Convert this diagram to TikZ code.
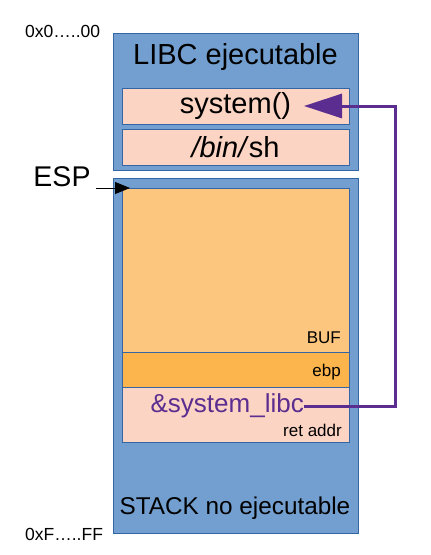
\documentclass[tikz,border=0pt]{standalone}
\usepackage{fontspec}
\setmainfont{Liberation Sans}
\usetikzlibrary{arrows.meta,positioning}
\definecolor{segblue}{HTML}{729FCF}
\definecolor{segline}{HTML}{3465A4}
\definecolor{salmon}{HTML}{FCD4C3}
\definecolor{bufor}{HTML}{FCC67E}
\definecolor{ebpor}{HTML}{FCB54C}
\definecolor{ropurple}{HTML}{5B2D90}
\newcommand{\fsz}[1]{\fontsize{#1}{#1}\selectfont}
\tikzset{
  segment/.style={draw=segline, fill=segblue, line width=1pt, inner sep=0pt, minimum width=245pt},
  slot/.style={draw=segline, line width=0.8pt, inner sep=0pt, minimum width=227pt},
  tag/.style={inner sep=0pt, anchor=east, font=\fsz{17}},
  hijack/.style={draw=ropurple, line width=3pt, -{Triangle[length=38pt,width=24pt]}}
}
\begin{document}
\begin{tikzpicture}[x=1pt, y=-1pt]
  \useasboundingbox (0,0) rectangle (431,555);
  \node[segment, minimum height=137pt] (libc) at (235.5,101.5) {};
  \node[font=\fsz{29}] (libctitle) at (235.5,57) {LIBC ejecutable};
  \node[slot, fill=salmon, minimum height=36pt, font=\fsz{29}] (sys) at (235.5,106) {system()};
  \node[slot, fill=salmon, minimum height=36pt, font=\fsz{29}] (binsh) at (235.5,147) {\textit{/bin/}sh};
  \node[segment, minimum height=355pt] (stack) at (235.5,355.5) {};
  \node[slot, fill=bufor, minimum height=164pt] (buf) at (235.5,270) {};
  \node[slot, fill=ebpor, minimum height=35pt] (ebp) at (235.5,369.5) {};
  \node[slot, fill=salmon, minimum height=55pt] (ret) at (235.5,414.5) {};
  \node[tag] (buftag) at (341,338) {BUF};
  \node[tag] (ebptag) at (341,372) {ebp};
  \node[tag] (rettag) at (342,430) {ret addr};
  \node[tag, font=\fsz{26}, text=ropurple] (syslibc) at (304,406) {\&system\_libc};
  \node[font=\fsz{24.3}] (stacktitle) at (235,508) {STACK no ejecutable};
  \node[font=\fsz{28.5}] (esp) at (62,177) {ESP};
  \node[font=\fsz{17.5}, anchor=west, inner sep=0pt] (lowaddr) at (25,31) {0x0…..00};
  \node[font=\fsz{17.5}, anchor=west, inner sep=0pt] (highaddr) at (25,534) {0xF…..FF};
  \coordinate (espfrom) at (96,188);
  \coordinate (espto) at (130,188);
  \coordinate (systip) at (304,106);
  \coordinate (turn) at (395,406);
  \draw[line width=0.8pt, -{Triangle[length=15pt,width=12pt]}] (espfrom) -- (espto);
  \draw[hijack] (syslibc.east) -- (turn) |- (systip);
\end{tikzpicture}
\end{document}
